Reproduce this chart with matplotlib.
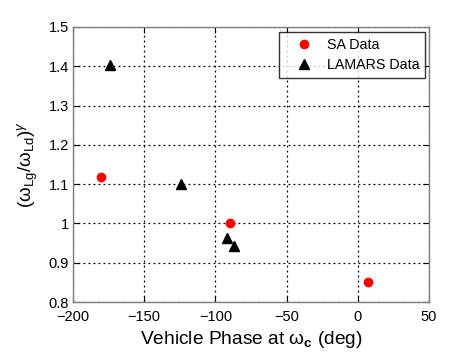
import matplotlib
matplotlib.use("Agg")
import matplotlib.pyplot as plt

sa_phase = [-180, -90, 7]
sa_ratio = [1.118, 1.002, 0.852]
lamars_phase = [-174, -124, -92, -87]
lamars_ratio = [1.403, 1.100, 0.964, 0.942]
xticks = [-200, -150, -100, -50, 0, 50]
yticks = [0.8, 0.9, 1.0, 1.1, 1.2, 1.3, 1.4, 1.5]
ytick_labels = ["0.8", "0.9", "1", "1.1", "1.2", "1.3", "1.4", "1.5"]

plt.rcParams['font.family'] = ['Liberation Sans', 'DejaVu Sans']
plt.rcParams['mathtext.fontset'] = 'custom'
plt.rcParams['mathtext.rm'] = 'Liberation Sans'
plt.rcParams['mathtext.it'] = 'Liberation Sans:italic'
plt.rcParams['mathtext.bf'] = 'Liberation Sans:bold'

fig = plt.figure(figsize=(4.74, 3.55), dpi=100)
ax = fig.add_axes([73/474, 1-302/355, (429-73)/474, (302-27)/355])

ax.plot(sa_phase, sa_ratio, 'o', color='red', markersize=6, label='SA Data', linestyle='none')
ax.plot(lamars_phase, lamars_ratio, '^', color='black', markersize=6.5, label='LAMARS Data', linestyle='none')

ax.set_xlim(-200, 50)
ax.set_ylim(0.8, 1.5)
ax.set_xticks(xticks)
ax.set_yticks(yticks)
ax.set_yticklabels(ytick_labels)
ax.grid(True, color='black', linestyle=(0, (1.5, 2.5)), linewidth=0.9)
ax.set_axisbelow(True)
ax.tick_params(direction='in', length=4, labelsize=10.5, colors='black',
               top=True, right=True)
ax.tick_params(axis='x', pad=6)
ax.tick_params(axis='y', pad=3)
for s in ax.spines.values():
    s.set_color('#808080')
    s.set_linewidth(1)

ax.set_xlabel(r'Vehicle Phase at ω$_{\mathbf{c}}$ (deg)', fontsize=13.8, labelpad=3)
ax.set_ylabel(r'(ω$_{\mathrm{Lg}}$/ω$_{\mathrm{Ld}}$)$^{\gamma}$', fontsize=13.5, labelpad=6)

leg = ax.legend(loc='upper right', bbox_to_anchor=(0.99, 0.982), fontsize=10.3,
                frameon=True, fancybox=False, edgecolor='black', borderpad=0.42,
                handlelength=2.6, handletextpad=0.3, labelspacing=0.4, borderaxespad=0)
leg.get_frame().set_linewidth(1)

fig.savefig('out.png', dpi=100)
